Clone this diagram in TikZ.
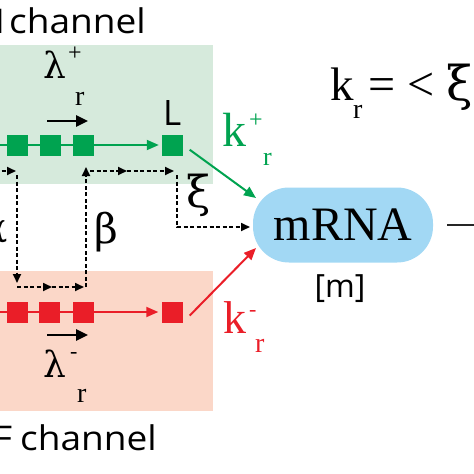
\documentclass[tikz,border=0pt]{standalone}
\usepackage{fontspec}
\setmainfont{Liberation Serif}
\setsansfont{Open Sans}
\newfontfamily\grk{DejaVu Serif}
\usetikzlibrary{arrows.meta, positioning, shapes}
\definecolor{onbg}{RGB}{214,234,220}
\definecolor{offbg}{RGB}{251,215,200}
\definecolor{ongreen}{RGB}{0,163,80}
\definecolor{offred}{RGB}{234,30,40}
\definecolor{rnablue}{RGB}{162,216,244}
\newcommand{\setfs}[1]{\fontsize{#1}{#1}\selectfont}
\newcommand{\wide}[1]{\scalebox{1.09}[1]{#1}}
\tikzset{
	site/.style={rectangle, inner sep=0pt, minimum size=21pt},
	lbl/.style={inner sep=0pt, anchor=base west},
	pol/.style={black, dash pattern=on 4pt off 2.5pt, line width=1.7pt, -{Triangle[length=9pt,width=8pt]}},
	chain/.style={line width=1.8pt, -{Triangle[length=12pt,width=10pt]}},
	move/.style={line width=2.6pt, -{Triangle[length=12pt,width=11pt]}},
}
\begin{document}
\begin{tikzpicture}[x=1pt, y=-1pt]
	\useasboundingbox (0,0) rectangle (474,474);
	\clip (0,0) rectangle (474,474);
	
	% channel boxes
	\fill[onbg] (-5,45) rectangle (213,184);
	\fill[offbg] (-5,271) rectangle (213,411);
	\node[lbl, anchor=base east, font=\sffamily\setfs{34}] (onlab) at (146,33) {\wide{ON\kern-0.15em{} channel}};
	\node[lbl, anchor=base east, font=\sffamily\setfs{34}] (offlab) at (157,450) {\wide{OFF\kern-0.05em{} channel}};
	
	% polymerase path (dashed)
	\coordinate (pIn) at (-5,171);
	\coordinate (pA) at (17,171);
	\coordinate (pB) at (17,287);
	\coordinate (pBC) at (52,287);
	\coordinate (pC) at (86,287);
	\coordinate (pD) at (86,171);
	\coordinate (pDE) at (127,171);
	\coordinate (pE) at (177,171);
	\coordinate (pF) at (177,227);
	\coordinate (pG) at (250,227);
	\draw[pol] (pIn) -- (16,171);
	\draw[pol] (17,175) -- (17,283);
	\draw[pol] (pB) -- (pBC);
	\draw[pol] (pBC) -- (84,287);
	\draw[pol] (pC) -- (86,167);
	\draw[pol] (90,171) -- (pDE);
	\draw[pol] (pDE) -- (174,171);
	\draw[pol] (177,175) -- (pF) -- (pG);
	
	% ON sites
	\foreach \x [count=\i] in {17.5,50,83.5}
		\node[site, fill=ongreen] (g\i) at (\x,145) {};
	\node[site, fill=ongreen] (gL) at (172.5,145) {};
	\coordinate (gIn) at (-5,145);
	\draw[chain, ongreen, shorten >=3pt] (gIn) -- (gL.west);
	\node[lbl, font=\sffamily\setfs{35}] (Llab) at (163,125) {L};
	
	% OFF sites
	\foreach \x [count=\i] in {17.5,49,83}
		\node[site, fill=offred] (r\i) at (\x,312) {};
	\node[site, fill=offred] (rL) at (172,312) {};
	\coordinate (rIn) at (-5,312);
	\draw[chain, offred, shorten >=3pt] (rIn) -- (rL.west);
	
	% elongation arrows
	\coordinate (mvOnA) at (47,121);
	\coordinate (mvOnB) at (88,121);
	\draw[move] (mvOnA) -- (mvOnB);
	\coordinate (mvOffA) at (47,335);
	\coordinate (mvOffB) at (88,335);
	\draw[move] (mvOffA) -- (mvOffB);
	
	% lambda labels
	\node[lbl, font=\grk\setfs{36}] (lamOn) at (43,78) {λ};
	\node[lbl, font=\setfs{24}] (lamOnP) at (68,60) {+};
	\node[lbl, font=\setfs{28}] (lamOnR) at (75,105) {r};
	\node[lbl, font=\grk\setfs{36}] (lamOff) at (43,377) {λ};
	\node[lbl, font=\setfs{22}] (lamOffM) at (70,358) {-};
	\node[lbl, font=\setfs{28}] (lamOffR) at (77,402) {r};
	
	% switching labels
	\node[lbl, anchor=base east, font=\grk\setfs{42}] (alab) at (8,242) {α};
	\node[lbl, font=\grk\setfs{41}] (blab) at (94,243) {β};
	\node[lbl, font=\grk\setfs{44}] (xlab) at (186,207) {ξ};
	
	% mRNA
	\node[rectangle, rounded corners=36pt, fill=rnablue, minimum width=180pt, minimum height=75pt,
		inner sep=0pt, font=\setfs{48}] (mrna) at (343,225) {mRNA};
	\node[inner sep=0pt, anchor=base, font=\sffamily\setfs{32}] (mlab) at (340,297) {[m]};
	\coordinate (outR) at (485,225);
	\draw[line width=2pt, black!85, shorten <=14pt] (mrna.east) -- (outR);
	
	% production arrows
	\coordinate (kOnIn) at (256,198);
	\coordinate (kOffIn) at (256,248);
	\draw[chain, ongreen, line width=2pt, shorten <=8pt] (gL.east) -- (kOnIn);
	\draw[chain, offred, line width=2pt, shorten <=10pt] (rL.south east) -- (kOffIn);
	
	% rate labels
	\node[lbl, ongreen, font=\setfs{48}] (kOn) at (222,146) {k};
	\node[lbl, ongreen, font=\setfs{24}] (kOnP) at (249,127) {+};
	\node[lbl, ongreen, font=\setfs{26}] (kOnR) at (263,165) {r};
	\node[lbl, offred, font=\setfs{46}] (kOff) at (223,333) {k};
	\node[lbl, offred, font=\setfs{22}] (kOffM) at (249,316) {-};
	\node[lbl, offred, font=\setfs{28}] (kOffR) at (255,352) {r};
	
	% mean rate
	\node[lbl, font=\setfs{47}] (kr) at (330,100) {k};
	\node[lbl, font=\setfs{28}] (krR) at (353,118) {r};
	\node[lbl, font=\setfs{48}] (krEq) at (368,100) {= < {\grk ξ}};
	
\end{tikzpicture}
\end{document}
